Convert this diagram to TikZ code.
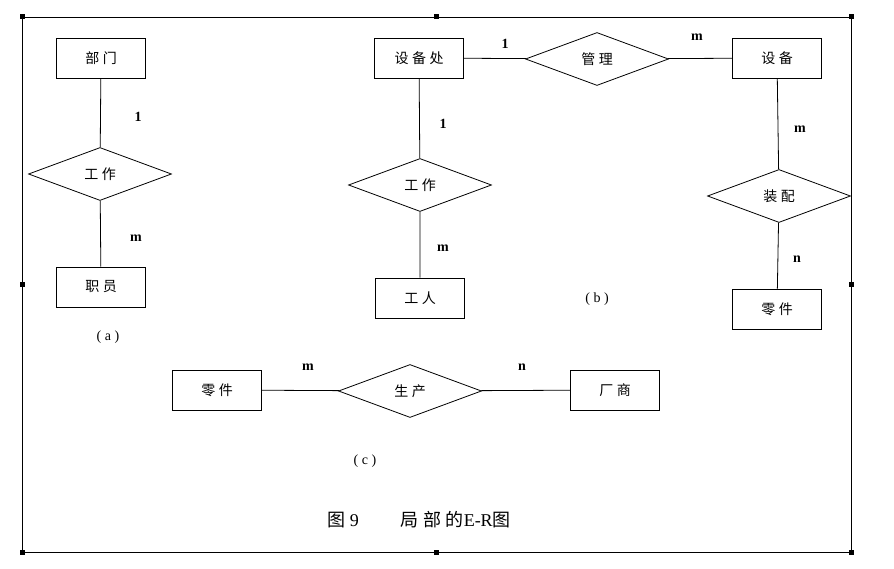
\documentclass[tikz,border=0pt]{standalone}
\usepackage{fontspec}
\setmainfont{Liberation Serif}
\newfontfamily\cjk{Noto Sans CJK SC}[LetterSpace=25]
\usetikzlibrary{shapes.geometric}
\begin{document}
\begin{tikzpicture}[x=1pt,y=-1pt,
  ent/.style={draw,thick,minimum width=89pt,minimum height=40pt,font=\cjk\fontsize{14}{16}\selectfont},
  rel/.style={draw,thick,diamond,aspect=2.7,minimum width=143pt,minimum height=53pt,inner sep=0pt,font=\cjk\fontsize{14}{16}\selectfont},
  lab/.style={font=\bfseries\fontsize{14}{16}\selectfont},
  hd/.style={fill=black,minimum size=5pt,inner sep=0pt}]
\useasboundingbox (0,0) rectangle (894,569);
\draw[thick] (22,17) rectangle (851,552);
\foreach \p in {(22,17),(436,17),(851,17),(22,285),(851,285),(22,552),(436,552),(851,552)} \node[hd] at \p {};
% (a)
\node[ent] (bm) at (101,58) {部门};
\node[rel] (gz1) at (100,174) {工作};
\node[ent] (zy) at (101,287) {职员};
\draw[thick] (bm) -- (gz1) -- (zy);
\node[lab] at (138,117) {1};
\node[lab] at (136,238) {m};
\node at (108,337) {\fontsize{14}{16}\selectfont ( a )};
% (b)
\node[ent] (sbc) at (419,58) {设备处};
\node[rel] (gl) at (597,59) {管理};
\node[ent] (sb) at (777,58) {设备};
\node[rel] (gz2) at (420,185) {工作};
\node[ent] (gr) at (420,298) {工人};
\node[rel] (zp) at (779,196) {装配};
\node[ent] (lj) at (777,309) {零件};
\draw[thick] (sbc) -- (gl) -- (sb);
\draw[thick] (sbc) -- (gz2) -- (gr);
\draw[thick] (sb) -- (zp) -- (lj);
\node[lab] at (505,44) {1};
\node[lab] at (697,37) {m};
\node[lab] at (443,124) {1};
\node[lab] at (443,248) {m};
\node[lab] at (800,129) {m};
\node[lab] at (797,259) {n};
\node at (597,299) {\fontsize{14}{16}\selectfont ( b )};
% (c)
\node[ent] (lj2) at (217,390) {零件};
\node[rel] (sc) at (410,391) {生产};
\node[ent] (cs) at (615,390) {厂商};
\draw[thick] (lj2) -- (sc) -- (cs);
\node[lab] at (308,367) {m};
\node[lab] at (522,367) {n};
\node at (365,461) {\fontsize{14}{16}\selectfont ( c )};
\node (cap) at (419,520) {\fontsize{18}{20}\selectfont{\cjk 图} 9\hspace{42pt}{\cjk 局部的}E-R{\cjk 图}};
\end{tikzpicture}
\end{document}
